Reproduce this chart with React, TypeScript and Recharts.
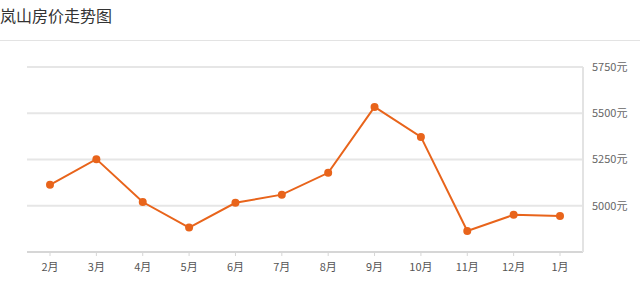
import React from 'react';
import { LineChart, Line, XAxis, YAxis, CartesianGrid } from 'recharts';

const months = ['2月', '3月', '4月', '5月', '6月', '7月', '8月', '9月', '10月', '11月', '12月', '1月'];
const prices = [5113, 5252, 5020, 4882, 5016, 5060, 5178, 5534, 5372, 4864, 4951, 4945];
const yTicks = [4750, 5000, 5250, 5500, 5750];

const data = months.map((m, i) => ({ month: m, price: prices[i] }));

const FONT = '"Noto Sans CJK SC", "Noto Sans", sans-serif';

const App: React.FC = () => {
  return (
    <div style={{ position: 'absolute', left: 0, top: 0, width: 640, height: 284, background: '#fff', fontFamily: FONT }}>
      <div style={{ position: 'absolute', left: 0, top: 4, fontSize: 16, color: '#333', lineHeight: '22px' }}>
        岚山房价走势图
      </div>
      <div style={{ position: 'absolute', left: 0, top: 40, width: 640, height: 1, background: '#e3e3e3' }} />
      <LineChart
        width={640}
        height={284}
        data={data}
        margin={{ top: 67, right: 7, left: 27, bottom: 2 }}
        style={{ position: 'absolute', left: 0, top: 0 }}
      >
        <CartesianGrid vertical={false} stroke="#e6e6e6" strokeWidth={2} />
        <XAxis
          dataKey="month"
          padding={{ left: 23, right: 23 }}
          axisLine={{ stroke: '#d6d6d6', strokeWidth: 2 }}
          tickLine={{ stroke: '#d6d6d6' }}
          tickSize={4}
          tickMargin={7}
          height={30}
          interval={0}
          tick={{ fill: '#555', fontSize: 11, fontFamily: FONT }}
        />
        <YAxis
          orientation="right"
          domain={[4750, 5750]}
          ticks={yTicks}
          width={50}
          axisLine={{ stroke: '#e3e3e3', strokeWidth: 2 }}
          tickLine={false}
          tickSize={0}
          tickMargin={9}
          tickFormatter={(v: number) => (v === 4750 ? '' : `${v}元`)}
          tick={{ fill: '#666', fontSize: 11, fontFamily: FONT, textAnchor: 'start' }}
        />
        <Line
          type="linear"
          dataKey="price"
          stroke="#e8641b"
          strokeWidth={2}
          dot={{ r: 4, fill: '#e8641b', stroke: '#e8641b', strokeWidth: 0 }}
          isAnimationActive={false}
        />
      </LineChart>
    </div>
  );
};

export default App;
